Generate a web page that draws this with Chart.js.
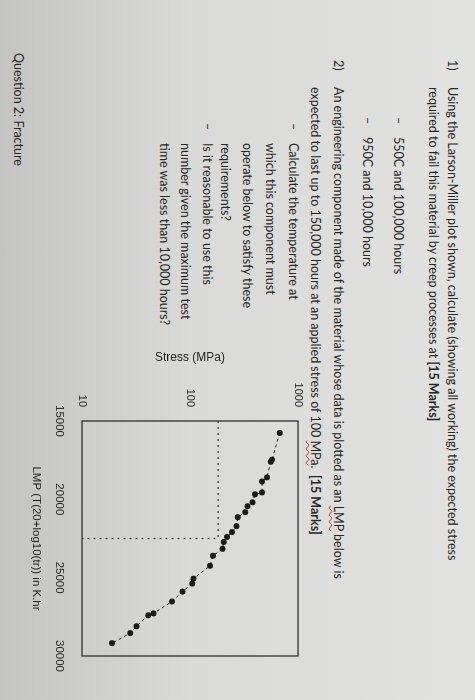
<!DOCTYPE html>
<html>
<head>
<meta charset="utf-8">
<script src="https://cdn.jsdelivr.net/npm/chart.js@4"></script>
<style>
  html, body { margin: 0; padding: 0; width: 475px; height: 700px; overflow: hidden; background: #cfcfcd; }
  #page {
    position: absolute; left: 0; top: 0; width: 700px; height: 475px;
    transform-origin: 0 0; transform: translateX(475px) rotate(90deg);
    background: linear-gradient(to bottom, #e2e2e0 0%, #d9d9d7 60%, #c4c4c2 100%);
    font-family: Lato, sans-serif; font-size: 12.5px; color: #262626;
  }
  .t { position: absolute; white-space: nowrap; line-height: 16px; }
  .sq { text-decoration: underline wavy #d03030; text-decoration-thickness: 1px; }
  #wrap { position: absolute; left: 350px; top: 150px; width: 330px; height: 300px; }
</style>
</head>
<body>
<div id="page">
  <div class="t" style="left:60px;top:15px">1)</div>
  <div class="t" style="left:87px;top:15px">Using the Larson-Miller plot shown, calculate (showing all working) the expected stress</div>
  <div class="t" style="left:87px;top:34px">required to fail this material by creep processes at <b>[15 Marks]</b></div>
  <div class="t" style="left:117px;top:69px">–</div>
  <div class="t" style="left:137px;top:69px">550C and 100,000 hours</div>
  <div class="t" style="left:117px;top:100px">–</div>
  <div class="t" style="left:137px;top:100px">950C and 10,000 hours</div>
  <div class="t" style="left:60px;top:129px">2)</div>
  <div class="t" style="left:87px;top:129px">An engineering component made of the material whose data is plotted as an <span class="sq">LMP</span> below is</div>
  <div class="t" style="left:87px;top:152px">expected to last up to 150,000 hours at an applied stress of 100 <span class="sq">MPa</span>.&nbsp; <b>[15 Marks]</b></div>
  <div class="t" style="left:123px;top:174px">–</div>
  <div class="t" style="left:143px;top:174px">Calculate the temperature at</div>
  <div class="t" style="left:143px;top:197px">which this component must</div>
  <div class="t" style="left:143px;top:220px">operate below to satisfy these</div>
  <div class="t" style="left:143px;top:242px">requirements?</div>
  <div class="t" style="left:123px;top:260px">–</div>
  <div class="t" style="left:143px;top:260px">Is it reasonable to use this</div>
  <div class="t" style="left:143px;top:282px">number given the maximum test</div>
  <div class="t" style="left:143px;top:303px">time was less than 10,000 hours?</div>
  <div class="t" style="left:53px;top:449px">Question 2: Fracture</div>
  <div id="wrap"><canvas id="lmpChart" width="330" height="300"></canvas></div>
</div>
<script>
// data
const lmpValues = [15760, 17470, 17600, 18600, 18860, 19560, 19680, 20190, 20440, 20820, 21140, 21710, 22090, 22400, 22720, 23160, 23600, 24240, 25060, 25380, 25890, 26520, 27280, 27400, 28100, 28540, 29180];
const stressValues = [676, 575, 560, 515, 465, 465, 400, 380, 340, 325, 277, 270, 245, 220, 205, 200, 163, 153, 108, 105, 85, 68, 46, 41, 32, 28, 19];
const guideLmp = [15000, 22500, 22500];
const guideStress = [182, 182, 10];
const xTicks = [15000, 20000, 25000, 30000];
const yTicks = [10, 100, 1000];

const points = lmpValues.map((x, i) => ({ x: x, y: stressValues[i] }));
const guide = guideLmp.map((x, i) => ({ x: x, y: guideStress[i] }));

// plain frame around the plot area
const boxPlugin = {
  id: "box",
  afterDraw(chart) {
    const a = chart.chartArea, c = chart.ctx;
    c.save();
    c.strokeStyle = "#222";
    c.lineWidth = 1.2;
    c.strokeRect(a.left, a.top, a.right - a.left, a.bottom - a.top);
    c.restore();
  },
};

Chart.defaults.font.family = "'Liberation Sans', Arial, sans-serif";
Chart.defaults.color = "#222";

new Chart(document.getElementById("lmpChart"), {
  type: "scatter",
  data: {
    datasets: [
      {
        data: points,
        showLine: true,
        borderColor: "#222",
        borderWidth: 1,
        borderDash: [3, 3],
        backgroundColor: "#1a1a1a",
        pointRadius: 3,
        pointBorderWidth: 0,
      },
      {
        data: guide,
        showLine: true,
        borderColor: "#333",
        borderWidth: 1.2,
        borderDash: [2, 4],
        pointRadius: 0,
      },
    ],
  },
  options: {
    responsive: false,
    animation: false,
    layout: { padding: { top: 27, right: 24 } },
    plugins: { legend: { display: false }, tooltip: { enabled: false } },
    scales: {
      x: {
        type: "linear",
        min: 15000,
        max: 30000,
        afterBuildTicks: (s) => { s.ticks = xTicks.map((v) => ({ value: v })); },
        afterFit: (s) => { s.height = 57; },
        grid: { display: false },
        border: { display: false },
        ticks: { font: { size: 11.5 }, padding: 8, maxRotation: 0, callback: (v) => String(v) },
        title: { display: true, text: "LMP (T(20+log10(tr)) in K.hr", font: { size: 11.5 }, padding: { top: 8 } },
      },
      y: {
        type: "logarithmic",
        min: 10,
        max: 1000,
        afterBuildTicks: (s) => { s.ticks = yTicks.map((v) => ({ value: v })); },
        afterFit: (s) => { s.width = 71; },
        grid: { display: false },
        border: { display: false },
        ticks: { font: { size: 11 }, padding: 6, callback: (v) => String(v) },
        title: { display: true, text: "Stress (MPa)", font: { size: 12 }, padding: 0 },
      },
    },
  },
  plugins: [boxPlugin],
});
</script>
</body>
</html>
